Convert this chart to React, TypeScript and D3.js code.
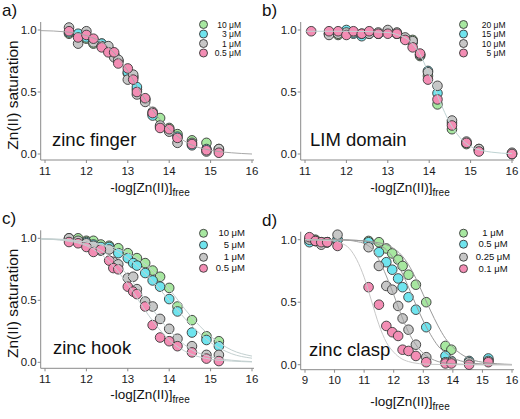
import React from "react";
import * as d3 from "d3";

// ---------- shared ----------
const COLORS = ["#a7e7a0", "#6fe4ee", "#c7c7c7", "#f38db4"];
const yTicks = [0, 0.5, 1.0];
const xTicks11 = [11, 12, 13, 14, 15, 16];
const xTicks9 = [9, 10, 11, 12, 13, 14, 15, 16];

// ---------- panel a : zinc finger ----------
const aX = [11.58, 11.8, 12.0, 12.17, 12.37, 12.53, 12.67, 12.77, 13.0, 13.13, 13.22, 13.42, 13.6, 13.78, 14.0, 14.2, 14.55, 14.9, 15.2];
const aGreen = [0.97, 0.96, 0.93, 0.89, 0.89, 0.85, 0.80, 0.75, 0.65, 0.62, 0.52, 0.44, 0.32, 0.29, 0.21, 0.16, 0.11, 0.09, 0.04];
const aCyan = [0.98, 0.97, 0.94, 0.92, 0.89, 0.84, 0.80, 0.75, 0.66, 0.62, 0.54, 0.44, 0.31, 0.22, 0.19, 0.14, 0.07, 0.04, 0.03];
const aGray = [1.02, 0.89, 0.99, 0.90, 0.87, 0.87, 0.78, 0.76, 0.60, 0.64, 0.48, 0.42, 0.34, 0.23, 0.18, 0.09, 0.09, 0.02, 0.04];
const aPink = [0.99, 0.94, 0.96, 0.93, 0.86, 0.82, 0.82, 0.73, 0.69, 0.60, 0.50, 0.45, 0.33, 0.21, 0.20, 0.13, 0.08, 0.03, 0.01];
const aLegend = ["10 \u03bcM", "3 \u03bcM", "1 \u03bcM", "0.5 \u03bcM"];
const aCurveX = [10.9, 11.5, 12, 12.5, 13, 13.25, 13.5, 13.75, 14, 14.5, 15, 15.5, 16];
const aCurveY = [0.995, 0.985, 0.955, 0.87, 0.67, 0.53, 0.40, 0.29, 0.20, 0.08, 0.03, 0.01, 0.0];

// ---------- panel b : LIM domain ----------
const bX = [11.15, 11.58, 11.8, 12.0, 12.17, 12.37, 12.55, 12.77, 13.0, 13.22, 13.42, 13.6, 13.78, 13.97, 14.2, 14.55, 14.9, 15.2, 16.0];
const bGreen = [null, 0.97, 0.96, 0.97, 0.98, 0.96, 0.97, 0.97, 0.99, 0.97, 0.93, 0.92, 0.79, 0.63, 0.40, 0.20, 0.08, 0.04, 0.0];
const bCyan = [null, 0.97, 0.98, 1.0, 0.97, 0.95, 0.98, 0.97, 0.98, 0.97, 0.93, 0.90, 0.80, 0.67, 0.49, 0.25, 0.09, 0.03, 0.0];
const bGray = [null, 0.96, 0.97, 0.98, 0.98, 0.97, 0.97, 0.98, 1.0, 0.98, 0.94, 0.91, 0.80, 0.66, 0.55, 0.27, 0.10, 0.04, 0.01];
const bPink = [0.99, 0.99, 0.99, 0.96, 0.99, 0.97, 0.99, 0.97, 0.97, 0.97, 0.92, 0.86, 0.81, 0.60, 0.44, 0.23, 0.09, 0.02, 0.0];
const bLegend = ["20 \u03bcM", "15 \u03bcM", "10 \u03bcM", "5 \u03bcM"];
const bCurveX = [11, 12, 13, 13.25, 13.5, 13.75, 14, 14.25, 14.5, 14.75, 15, 15.5, 16];
const bCurveY = [0.99, 0.99, 0.98, 0.96, 0.92, 0.82, 0.64, 0.43, 0.25, 0.13, 0.06, 0.015, 0.003];

// ---------- panel c : zinc hook ----------
const cX = [11.58, 11.8, 12.0, 12.17, 12.35, 12.55, 12.65, 12.77, 13.0, 13.13, 13.22, 13.42, 13.6, 13.78, 14.0, 14.2, 14.55, 14.9, 15.2];
const cGreen = [1.0, 1.0, 0.98, 0.98, 0.95, 0.94, null, 0.92, 0.88, null, 0.84, 0.80, 0.74, 0.69, 0.60, 0.45, 0.34, 0.21, 0.17];
const cCyan = [0.99, 0.97, 0.97, 0.95, 0.93, 0.93, null, 0.88, 0.84, 0.80, 0.78, 0.72, 0.66, 0.61, 0.51, 0.41, 0.24, 0.18, 0.13];
const cGray = [1.0, 0.98, 0.96, 0.94, 0.90, 0.91, 0.81, 0.79, 0.68, 0.69, 0.59, 0.49, 0.45, 0.35, 0.27, 0.19, 0.13, 0.06, 0.06];
const cPink = [0.97, 0.96, 0.93, 0.89, 0.91, 0.82, 0.76, 0.75, 0.61, 0.57, 0.55, 0.45, 0.30, 0.20, 0.17, 0.13, 0.08, 0.03, 0.01];
const cLegend = ["10 \u03bcM", "5 \u03bcM", "1 \u03bcM", "0.5 \u03bcM"];
const cCurveX = [10.9, 11.5, 12, 12.5, 13, 13.5, 14, 14.5, 15, 15.5, 16];
const cCurveGreen = [0.995, 0.99, 0.97, 0.94, 0.88, 0.77, 0.59, 0.38, 0.21, 0.10, 0.05];
const cCurveCyan = [0.995, 0.99, 0.97, 0.93, 0.84, 0.69, 0.50, 0.31, 0.16, 0.07, 0.033];
const cCurveGray = [0.995, 0.985, 0.95, 0.87, 0.70, 0.47, 0.26, 0.11, 0.045, 0.017, 0.006];
const cCurvePink = [0.995, 0.98, 0.94, 0.83, 0.63, 0.38, 0.18, 0.07, 0.025, 0.01, 0.003];

// ---------- panel d : zinc clasp ----------
const dX = [9.15, 9.35, 9.55, 9.75, 10.1, 11.15, 11.5, 11.75, 11.95, 12.15, 12.3, 12.5, 12.75, 13.1, 13.75, 13.95, 14.55, 15.2];
const dGreen = [1.0, 1.0, 0.98, 0.98, 1.0, 0.99, 0.98, 0.93, 0.89, 0.84, 0.79, 0.72, 0.64, 0.50, 0.15, 0.12, 0.02, 0.04];
const dCyan = [0.98, 0.99, 0.97, 0.98, 1.0, 0.98, 0.90, 0.82, 0.76, 0.69, 0.62, 0.54, 0.44, 0.30, 0.07, 0.03, 0.03, 0.05];
const dGray = [1.0, 0.99, 0.96, 0.98, 1.04, 0.94, 0.79, 0.63, 0.60, 0.47, 0.37, 0.28, 0.16, 0.06, 0.02, 0.02, 0.02, 0.03];
const dPink = [1.02, 0.99, 0.98, 0.98, 0.95, 0.62, 0.48, 0.31, 0.26, 0.23, 0.12, 0.11, 0.07, 0.02, 0.01, 0.01, 0.0, 0.02];
const dLegend = ["1 \u03bcM", "0.5 \u03bcM", "0.25 \u03bcM", "0.1 \u03bcM"];
const dCurveX = [9, 10, 10.25, 10.5, 10.75, 11, 11.25, 11.5, 11.75, 12, 12.25, 12.5, 12.75, 13, 13.25, 13.5, 13.75, 14, 14.5, 15, 16];
const dCurveGreen = [1.0, 1.0, 0.999, 0.997, 0.995, 0.99, 0.985, 0.975, 0.96, 0.93, 0.88, 0.80, 0.69, 0.56, 0.43, 0.31, 0.21, 0.14, 0.055, 0.02, 0.002];
const dCurveCyan = [1.0, 1.0, 0.999, 0.997, 0.994, 0.99, 0.98, 0.96, 0.92, 0.85, 0.75, 0.62, 0.48, 0.35, 0.24, 0.15, 0.095, 0.055, 0.018, 0.006, 0.0];
const dCurveGray = [1.0, 0.999, 0.998, 0.995, 0.985, 0.97, 0.93, 0.84, 0.71, 0.56, 0.40, 0.26, 0.16, 0.09, 0.05, 0.025, 0.013, 0.007, 0.002, 0.0, 0.0];
const dCurvePink = [1.0, 0.99, 0.97, 0.93, 0.84, 0.70, 0.51, 0.32, 0.18, 0.10, 0.05, 0.025, 0.012, 0.006, 0.003, 0.002, 0.001, 0.0, 0.0, 0.0, 0.0];

const FONT = "'Liberation Sans', Arial, Helvetica, sans-serif";

type Curve = { x: number[]; y: number[]; color: string };

type PanelProps = {
  ox: number;
  oy: number;
  letter: string;
  name: string;
  nameX: number;
  xMin: number;
  xTicks: number[];
  y0: number;
  xs: number[];
  series: (number | null)[][];
  curves: Curve[];
  legend: string[];
  legendY: number[];
  legendTextX: number;
  legendAnchor: "end" | "middle" | "start";
  legendFont: number;
  showYLabel: boolean;
  xLabelY: number;
  tickLabelY: number;
};

function Panel(p: PanelProps) {
  const x = d3.scaleLinear().domain([p.xMin, 16]).range([45, 252]);
  const y = d3.scaleLinear().domain([0, 1]).range([p.y0, 30]);
  const axisLeft = 40.7;
  const axisBottom = 160;
  const line = d3
    .line<[number, number]>()
    .x((d) => x(d[0]))
    .y((d) => y(d[1]))
    .curve(d3.curveMonotoneX);

  return (
    <g transform={`translate(${p.ox},${p.oy})`} fontFamily={FONT}>
      <text x={2} y={16} fontSize={17} fill="#111">
        {p.letter}
      </text>
      {/* axes */}
      <line x1={axisLeft} x2={axisLeft} y1={22} y2={axisBottom} stroke="#8a8a8a" strokeWidth={1} />
      <line x1={axisLeft} x2={254} y1={axisBottom} y2={axisBottom} stroke="#8a8a8a" strokeWidth={1} />
      {p.xTicks.map((t) => (
        <g key={"xt" + t}>
          <line x1={x(t)} x2={x(t)} y1={axisBottom} y2={axisBottom + 3} stroke="#8a8a8a" />
          <text x={x(t)} y={p.tickLabelY} fontSize={11.5} textAnchor="middle" fill="#1a1a1a">
            {t}
          </text>
        </g>
      ))}
      {yTicks.map((t) => (
        <g key={"yt" + t}>
          <line x1={axisLeft - 3} x2={axisLeft} y1={y(t)} y2={y(t)} stroke="#8a8a8a" />
          <text x={axisLeft - 4} y={y(t) + 4} fontSize={11.5} textAnchor="end" fill="#1a1a1a">
            {t.toFixed(1)}
          </text>
        </g>
      ))}
      {p.showYLabel && (
        <text transform={`translate(17.5,${(22 + axisBottom) / 2 + 4}) rotate(-90)`} fontSize={15.5} textAnchor="middle" fill="#111">
          Zn(II) saturation
        </text>
      )}
      <text x={150} y={p.xLabelY} fontSize={13.5} textAnchor="middle" fill="#111">
        -log[Zn(II)]
        <tspan fontSize={10} dy={4}>
          free
        </tspan>
      </text>
      {/* points */}
      {p.series.map((s, si) =>
        s.map((v, i) =>
          v === null ? null : (
            <circle
              key={`p${si}-${i}`}
              cx={x(p.xs[i])}
              cy={y(v)}
              r={4.8}
              fill={COLORS[si]}
              stroke="#383838"
              strokeWidth={0.9}
            />
          )
        )
      )}
      {/* fitted curves */}
      {p.curves.map((c, ci) => (
        <path
          key={"c" + ci}
          d={line(c.x.map((xv, i) => [xv, c.y[i]] as [number, number])) || ""}
          fill="none"
          stroke={c.color}
          strokeWidth={1}
        />
      ))}
      {/* panel name */}
      <text x={p.nameX} y={146} fontSize={18.5} fill="#111">
        {p.name}
      </text>
      {/* legend */}
      {p.legend.map((l, i) => (
        <g key={"l" + i}>
          <circle cx={203.5} cy={p.legendY[i]} r={4} fill={COLORS[i]} stroke="#383838" strokeWidth={0.9} />
          <text x={p.legendTextX} y={p.legendY[i] + 3.1} fontSize={p.legendFont} textAnchor={p.legendAnchor} fill="#111">
            {l}
          </text>
        </g>
      ))}
    </g>
  );
}

export default function App() {
  return (
    <svg
      width={520}
      height={419}
      viewBox="0 0 520 419"
      style={{ position: "absolute", left: 0, top: 0, background: "#fff" }}
    >
      <rect width={520} height={419} fill="#fff" />
      <Panel
        ox={0}
        oy={0}
        letter="a)"
        name="zinc finger"
        nameX={52}
        xMin={11}
        xTicks={xTicks11}
        y0={154}
        xs={aX}
        series={[aGreen, aCyan, aGray, aPink]}
        curves={[{ x: aCurveX, y: aCurveY, color: "#a8a8a8" }]}
        legend={aLegend}
        legendY={[24.5, 34, 43.5, 53]}
        legendTextX={241}
        legendAnchor="end"
        legendFont={8.5}
        showYLabel={true}
        xLabelY={192}
        tickLabelY={174.5}
      />
      <Panel
        ox={260}
        oy={0}
        letter="b)"
        name="LIM domain"
        nameX={50}
        xMin={11}
        xTicks={xTicks11}
        y0={154}
        xs={bX}
        series={[bGreen, bCyan, bGray, bPink]}
        curves={[{ x: bCurveX, y: bCurveY, color: "#bfd3d3" }]}
        legend={bLegend}
        legendY={[24.5, 34, 43.5, 53]}
        legendTextX={245.5}
        legendAnchor="end"
        legendFont={8.5}
        showYLabel={false}
        xLabelY={192}
        tickLabelY={174.5}
      />
      <Panel
        ox={0}
        oy={208.3}
        letter="c)"
        name="zinc hook"
        nameX={53}
        xMin={11}
        xTicks={xTicks11}
        y0={154}
        xs={cX}
        series={[cGreen, cCyan, cGray, cPink]}
        curves={[
          { x: cCurveX, y: cCurveGreen, color: "#c3d0d0" },
          { x: cCurveX, y: cCurveCyan, color: "#c3d0d0" },
          { x: cCurveX, y: cCurveGray, color: "#c3d0d0" },
          { x: cCurveX, y: cCurvePink, color: "#c3d0d0" },
        ]}
        legend={cLegend}
        legendY={[25, 36.7, 49, 60]}
        legendTextX={245}
        legendAnchor="end"
        legendFont={9.5}
        showYLabel={true}
        xLabelY={191}
        tickLabelY={174.5}
      />
      <Panel
        ox={260}
        oy={209.7}
        letter="d)"
        name="zinc clasp"
        nameX={49}
        xMin={9}
        xTicks={xTicks9}
        y0={155}
        xs={dX}
        series={[dGreen, dCyan, dGray, dPink]}
        curves={[
          { x: dCurveX, y: dCurveGreen, color: "#9a9a9a" },
          { x: dCurveX, y: dCurveCyan, color: "#9a9a9a" },
          { x: dCurveX, y: dCurveGray, color: "#a0a0a0" },
          { x: dCurveX, y: dCurvePink, color: "#c8c8c8" },
        ]}
        legend={dLegend}
        legendY={[23.5, 34.5, 47.5, 59]}
        legendTextX={233}
        legendAnchor="middle"
        legendFont={9.5}
        showYLabel={false}
        xLabelY={196}
        tickLabelY={174.5}
      />
    </svg>
  );
}
